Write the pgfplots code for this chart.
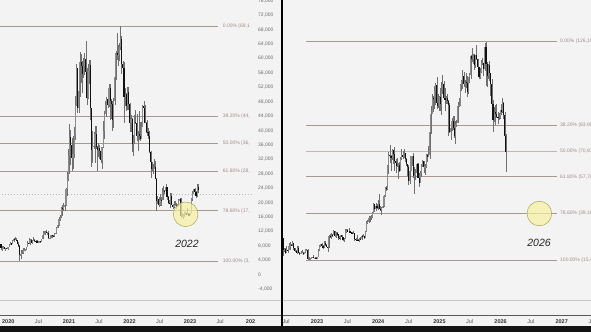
\documentclass[border=0pt]{standalone}
\usepackage{pgfplots}
\pgfplotsset{compat=1.18}
\usepackage{pgfplotstable}
\usepackage{fontspec}
\setmainfont{Liberation Sans}
\definecolor{bgc}{HTML}{F3F3F3}
\definecolor{fibc}{HTML}{A8988F}
\definecolor{fibt}{HTML}{A68A8A}
\definecolor{tickc}{HTML}{6E6E6E}
\definecolor{upc}{HTML}{8C8C8C}
\definecolor{dnc}{HTML}{111111}
\definecolor{wickc}{HTML}{707070}
\definecolor{circf}{HTML}{F6F1A0}
\definecolor{circd}{HTML}{A9A55C}
\definecolor{yearc}{HTML}{333333}
\definecolor{julc}{HTML}{555555}

% weekly BTC candles, n = weeks since 2019-11-18
\pgfplotstableread{
n o h l c
0 8500 8600 6900 7300
1 7300 7850 6550 7400
2 7400 7900 7150 7550
3 7550 7700 7050 7150
4 7150 7500 6450 7300
5 7300 7700 7050 7250
6 7250 7550 6850 7750
7 7750 8500 7700 8200
8 8200 9200 8150 8700
9 8700 8800 8250 8600
10 8600 9600 8550 9300
11 9300 10150 9150 9900
12 9900 10500 9700 9700
13 9700 10150 9300 9650
14 9650 9700 8500 8550
15 8550 9180 7700 8000
16 8000 8150 3800 5350
17 5350 6900 4450 5850
18 5850 6950 5700 5900
19 5900 7450 5850 6850
20 6850 7450 6450 6900
21 6900 7200 6500 7100
22 7100 7750 6800 7700
23 7700 9450 7650 8900
24 8900 10050 8600 8750
25 8750 9900 8200 9700
26 9700 9850 8850 8700
27 8700 9600 8650 9450
28 9450 10400 9250 9650
29 9650 9950 9200 9350
30 9350 9600 8950 9300
31 9300 9750 8850 9000
32 9000 9300 8950 9100
33 9100 9450 9050 9250
34 9250 9300 9050 9200
35 9200 10000 9150 9950
36 9950 12000 9900 11100
37 11100 12050 11050 11700
38 11700 12100 11150 11900
39 11900 12450 11500 11650
40 11650 11800 11150 11700
41 11700 12100 9900 10250
42 10250 10600 9900 10300
43 10300 11150 10200 11050
44 11050 11100 10150 10750
45 10750 10950 10400 10650
46 10650 11500 10550 11400
47 11400 11700 11250 11500
48 11500 13250 11400 13050
49 13050 13900 12950 13800
50 13800 15950 13550 15500
51 15500 16500 14800 16050
52 16050 18800 15800 18650
53 18650 19400 16300 18200
54 18200 19900 17700 19150
55 19150 19400 17600 19250
56 19250 24200 19000 23850
57 23850 28400 21900 26500
58 26500 34800 26100 33000
59 33000 41950 28000 38200
60 38200 40100 30400 36000
61 36000 37850 28900 32300
62 32300 38500 29300 33500
63 33500 40950 32300 38900
64 38900 49700 37400 47100
65 47100 58350 46800 57500
66 57500 57500 44900 46200
67 46200 52600 44900 51000
68 51000 61800 49300 59000
69 59000 61200 53300 58000
70 58000 59400 50400 55800
71 55800 60100 54600 58000
72 58000 61400 55500 60000
73 60000 64900 51000 56200
74 56200 57500 47000 49100
75 49100 58400 48800 56600
76 56600 59600 53000 58200
77 58200 59500 42900 46400
78 46400 46400 30000 34700
79 34700 40000 31100 35700
80 35700 39500 34800 35800
81 35800 41300 31000 39000
82 39000 41300 34800 35500
83 35500 35800 28800 34700
84 34700 36600 32700 35300
85 35300 35900 32100 34250
86 34250 34700 31000 31800
87 31800 35400 29300 35400
88 35400 42600 35200 39900
89 39900 45300 37600 44600
90 44600 48100 44500 47100
91 47100 49300 43900 48900
92 48900 50500 46400 47100
93 47100 52900 46600 51700
94 51700 52900 42800 48200
95 48200 48800 43200 47300
96 47300 48300 39800 42800
97 42800 49000 40800 48200
98 48200 56500 47000 54900
99 54900 62000 53900 61500
100 61500 67000 59700 60900
101 60900 63700 57800 61300
102 61300 64300 59400 63300
103 63300 69000 62300 65500
104 65500 66300 55600 58600
105 58600 59300 53300 57300
106 57300 59100 42000 49400
107 49400 51900 46700 50100
108 50100 50500 45500 46700
109 46700 52100 45600 50800
110 50800 52100 45700 47300
111 47300 47600 39700 42200
112 42200 44400 39700 43100
113 43100 43500 34100 36300
114 36300 38800 32900 37900
115 37900 44400 36300 42400
116 42400 45800 41700 42200
117 42200 44700 37000 38400
118 38400 39800 34300 39100
119 39100 45400 37500 38400
120 38400 42300 37200 37800
121 37800 42400 37600 41300
122 41300 47200 40900 46800
123 46800 48200 44200 46400
124 46400 47100 42100 42200
125 42200 42400 39200 39700
126 39700 42900 38600 39500
127 39500 40800 37600 38500
128 38500 40000 33700 34100
129 34100 34300 26700 31300
130 31300 31400 28700 29400
131 29400 30700 28000 29450
132 29450 32000 29300 29900
133 29900 31600 26600 26600
134 26600 26900 17600 20500
135 20500 21800 19700 21000
136 21000 21500 18800 19300
137 19300 22500 19200 20850
138 20850 21600 18950 20800
139 20800 24200 20800 22600
140 22600 24600 20700 23300
141 23300 23600 22500 23200
142 23200 25200 22700 24300
143 24300 24400 20800 21500
144 21500 21800 19600 20000
145 20000 20600 19500 19800
146 19800 22800 18600 21800
147 21800 22700 19300 19400
148 19400 19700 18200 18800
149 18800 20400 18500 19300
150 19300 20500 19000 19400
151 19400 19900 18200 19100
152 19100 19700 18900 19600
153 19600 21000 19200 20600
154 20600 21400 20100 20900
155 20900 21400 15600 16300
156 16300 17200 15900 16300
157 16300 16800 15500 16450
158 16450 17400 16100 17100
159 17100 17400 16700 17100
160 17100 18400 16500 16750
161 16750 17000 16300 16850
162 16850 17000 16350 16550
163 16550 17200 16500 17100
164 17100 21300 17100 20900
165 20900 23300 20400 22700
166 22700 23900 22300 23700
167 23700 24200 22600 22900
168 22900 23200 21400 21800
169 21800 25200 21500 24300
170 24300 25200 22800 23500
171 23500 23900 22000 22400
172 22400 22600 19600 22100
173 22100 28400 21900 28000
174 28000 28900 26600 27500
175 27500 29200 26500 28500
176 28500 28800 27200 28300
177 28300 30900 28200 30300
178 30300 30500 27200 27600
179 27600 30000 27000 29200
180 29200 29800 27700 28700
181 28700 28700 25800 26900
182 26900 27600 26300 26700
183 26700 28400 25900 28100
184 28100 28400 26500 27100
185 27100 27400 25400 25900
186 25900 26800 24800 26300
187 26300 31400 26200 30500
188 30500 31300 29500 30600
189 30600 31500 29800 30300
190 30300 31800 29900 30300
191 30300 30400 29500 29800
192 29800 29900 28900 29300
193 29300 29700 28600 29000
194 29000 30200 28700 29300
195 29300 29500 25200 26100
196 26100 26800 25800 26000
197 26000 28100 25400 25900
198 25900 26100 25300 25800
199 25800 26900 24900 26500
200 26500 27500 26000 26300
201 26300 28100 26000 28000
202 28000 28600 27200 27900
203 27900 27900 26500 26900
204 26900 30300 26800 30000
205 30000 35200 29800 34500
206 34500 35900 34000 35000
207 35000 38000 34500 37100
208 37100 37900 34800 37400
209 37400 38400 35700 37500
210 37500 40200 36900 39500
211 39500 44700 39300 43800
212 43800 44000 40200 41400
213 41400 44300 40500 43000
214 43000 43800 41400 42300
215 42300 45900 40800 43900
216 43900 49000 41500 41700
217 41700 43200 40600 41600
218 41600 42300 38500 42000
219 42000 43900 41800 43000
220 43000 48600 42500 48300
221 48300 52800 47700 52100
222 52100 52900 50600 51700
223 51700 64000 50900 63100
224 63100 70100 59000 68900
225 68900 73800 64600 68400
226 68400 68900 60800 67200
227 67200 71700 66400 71300
228 71300 71300 64500 69400
229 69400 72800 60700 65700
230 65700 66900 59700 64900
231 64900 67200 62500 63100
232 63100 64700 56600 64000
233 64000 65500 60200 60800
234 60800 67700 60700 66900
235 66900 71900 66100 69000
236 69000 70600 66700 67800
237 67800 71900 67500 69600
238 69600 70000 65100 66600
239 66600 67200 63400 64300
240 64300 64400 58400 62700
241 62700 63800 53500 55800
242 55800 61300 54300 60800
243 60800 68400 60700 68200
244 68200 68500 63500 68300
245 68300 70000 57200 58100
246 58100 62700 49000 58700
247 58700 61800 56100 59500
248 59500 65000 58000 64200
249 64200 64900 57200 57300
250 57300 59800 52600 54800
251 54800 60600 54600 59900
252 59900 64100 57500 63300
253 63300 66500 62700 65600
254 65600 66000 59900 62800
255 62800 64400 58900 63200
256 63200 69400 62400 69000
257 69000 69500 65500 67900
258 67900 73600 67600 68800
259 68800 81500 66800 80400
260 80400 93400 79700 89800
261 89800 99600 89400 97900
262 97900 98900 90800 97300
263 97300 104000 91900 101000
264 101000 105200 94200 104500
265 104500 108300 92200 95200
266 95200 99900 92500 93700
267 93700 98900 91200 98300
268 98300 102700 91200 94500
269 94500 106000 89300 101300
270 101300 109400 99500 104700
271 104700 106500 96800 97700
272 97700 102500 91200 96500
273 96500 98500 94800 97500
274 97500 99500 94900 96300
275 96300 96500 78200 94200
276 94200 95000 80000 80700
277 80700 85300 76600 82600
278 82600 87400 81200 86100
279 86100 88800 81600 82300
280 82300 88500 77200 78400
281 78400 86000 74500 83800
282 83800 86400 83100 85100
283 85100 95700 85100 93800
284 93800 97900 92900 94300
285 94300 104900 93400 104100
286 104100 106600 101400 106500
287 106500 111900 102100 109000
288 109000 110700 103100 104600
289 104600 106800 100400 105700
290 105700 110600 102700 105500
291 105500 108900 98200 100900
292 100900 108500 99600 108400
293 108400 110600 105100 109200
294 109200 119500 107500 119100
295 119100 123200 115800 117300
296 117300 120200 114700 119400
297 119400 119800 112000 114200
298 114200 119300 112700 119300
299 119300 124500 116800 117400
300 117400 117400 111700 113500
301 113500 113600 107300 108300
302 108300 113000 107300 111100
303 111100 116800 110600 115300
304 115300 117900 114400 115300
305 115300 115400 108600 112200
306 112200 125500 111600 123500
307 123500 126200 104000 115000
308 115000 115900 103500 108700
309 108700 114800 107500 114500
310 114500 116400 106300 110600
311 110600 110600 98900 104700
312 104700 107500 94000 94400
313 94400 96600 80600 86800
314 86800 93100 85300 90400
315 90400 94100 83800 89500
316 89500 94600 87600 88200
317 88200 90400 84400 88100
318 88100 90300 86600 87800
319 87800 91800 86900 91500
320 91500 94800 89300 90500
321 90500 97900 90300 95000
322 95000 95500 87300 89000
323 89000 90500 75800 78600
324 78600 79300 60000 70500
}\btc

\pgfplotsset{
  panel/.style={
    scale only axis, anchor=south west,
    axis line style={draw=none}, major tick length=0pt,
    scaled y ticks=false, scaled x ticks=false,
    /pgf/number format/1000 sep={,},
    /pgf/number format/assume math mode=true,
    xticklabel style={font=\fontsize{5.5}{6}\selectfont, text=julc, anchor=north, inner sep=0pt, yshift=-4pt},
    yticklabel style={font=\fontsize{5}{6}\selectfont, text=tickc, anchor=west, inner sep=0pt, xshift=5pt},
    clip=true,
  },
  fib/.style={fibc, line width=0.6pt, forget plot},
}
\tikzset{
  fiblab/.style={anchor=west, text=fibt, font=\fontsize{5}{6}\selectfont, inner sep=0pt},
  yr/.style={font=\fontsize{10.5}{12}\selectfont\itshape, text=black!85},
  circ/.style={draw=circd, fill=circf, fill opacity=0.7, line width=0.5pt},
}

\newcommand{\candles}[1]{%
  \addplot[draw=none, mark=none, forget plot, #1,
    error bars/.cd, y dir=both, y explicit, error mark=none,
    error bar style={draw=wickc, line width=0.45pt}]
    table[x=n, y expr={(\thisrow{h}+\thisrow{l})/2}, y error expr={(\thisrow{h}-\thisrow{l})/2}] {\btc};
  \addplot[draw=none, mark=none, forget plot, #1,
    restrict expr to domain={\thisrow{c}-\thisrow{o}}{0:1000000},
    error bars/.cd, y dir=both, y explicit, error mark=none,
    error bar style={draw=upc, line width=1.1pt}]
    table[x=n, y expr={(\thisrow{o}+\thisrow{c})/2}, y error expr={abs(\thisrow{c}-\thisrow{o})/2}] {\btc};
  \addplot[draw=none, mark=none, forget plot, #1,
    restrict expr to domain={\thisrow{c}-\thisrow{o}}{-1000000:-1},
    error bars/.cd, y dir=both, y explicit, error mark=none,
    error bar style={draw=dnc, line width=1.1pt}]
    table[x=n, y expr={(\thisrow{o}+\thisrow{c})/2}, y error expr={abs(\thisrow{c}-\thisrow{o})/2}] {\btc};
}

\begin{document}
\begin{tikzpicture}[x=1pt,y=1pt]
\fill[bgc] (0,0) rectangle (591,332);
\path[use as bounding box] (0,0) rectangle (591,332);

% ---------- left panel ----------
\begin{axis}[panel, at={(0pt,17pt)}, width=253pt, height=315pt,
  xmin=-0.87, xmax=217.1, ymin=-11185, ymax=76242,
  ytick={-4000,0,...,76000}, yticklabel pos=right,
  xtick={6.286,32.286,58.571,84.43,110.71,136.57,162.86,188.71,215.0},
  xticklabels={\textcolor{yearc}{\textbf{2020}},Jul,\textcolor{yearc}{\textbf{2021}},Jul,\textcolor{yearc}{\textbf{2022}},Jul,\textcolor{yearc}{\textbf{2023}},Jul,\textcolor{yearc}{\textbf{202}}},
]
\addplot[gray!55, line width=0.4pt, dash pattern=on 1.5pt off 1.5pt, forget plot] coordinates {(-2,22400) (217.1,22400)};
\addplot[fib] coordinates {(-2,69000) (186.9,69000)};
\addplot[fib] coordinates {(-2,44094) (186.9,44094)};
\addplot[fib] coordinates {(-2,36400) (186.9,36400)};
\addplot[fib] coordinates {(-2,28706) (186.9,28706)};
\addplot[fib] coordinates {(-2,17753) (186.9,17753)};
\addplot[fib] coordinates {(-2,3800) (186.9,3800)};
\candles{restrict x to domain=-5:170.5}
\draw[circ] (axis cs:159.1,16764) circle[radius=12.3pt];
\node[yr] at (axis cs:160.2,8520) {2022};
\node[fiblab] at (axis cs:191,69000) {0.00\% (69,1};
\node[fiblab] at (axis cs:191,44094) {38.20\% (44,};
\node[fiblab] at (axis cs:191,36400) {50.00\% (36,};
\node[fiblab] at (axis cs:191,28706) {61.80\% (28,};
\node[fiblab] at (axis cs:191,17753) {78.60\% (17,};
\node[fiblab] at (axis cs:191,3800) {100.00\% (3,};
\end{axis}

% ---------- right panel ----------
\begin{axis}[panel, at={(283pt,17pt)}, width=309.7pt, height=315pt,
  xmin=133.86, xmax=398, ymin=-12200, ymax=147317,
  ytick=\empty,
  xtick={136.57,162.86,188.71,215.0,241.0,267.29,293.14,319.43,345.29,371.57,397.43},
  xticklabels={Jul,\textcolor{yearc}{\textbf{2023}},Jul,\textcolor{yearc}{\textbf{2024}},Jul,\textcolor{yearc}{\textbf{2025}},Jul,\textcolor{yearc}{\textbf{2026}},Jul,\textcolor{yearc}{\textbf{2027}},Jul},
]
\addplot[fib] coordinates {(153.5,126200) (367.6,126200)};
\addplot[fib] coordinates {(153.5,83913) (367.6,83913)};
\addplot[fibc!70, line width=0.9pt, forget plot] coordinates {(153.5,70850) (367.6,70850)};
\addplot[fib] coordinates {(153.5,57787) (367.6,57787)};
\addplot[fib] coordinates {(153.5,39190) (367.6,39190)};
\addplot[fib] coordinates {(153.5,15500) (367.6,15500)};
\candles{}
\draw[circ] (axis cs:352.5,39190) circle[radius=12.3pt];
\node[yr] at (axis cs:352.2,24410) {2026};
\node[fiblab] at (axis cs:370.1,126200) {0.00\% (126,198.07)};
\node[fiblab] at (axis cs:370.1,83913) {38.20\% (83,906.44)};
\node[fiblab] at (axis cs:370.1,70850) {50.00\% (70,837.06)};
\node[fiblab] at (axis cs:370.1,57787) {61.80\% (57,767.68)};
\node[fiblab] at (axis cs:370.1,39190) {78.60\% (39,160.68)};
\node[fiblab] at (axis cs:370.1,15500) {100.00\% (15,476.04)};
\end{axis}

% ---------- frame decorations ----------
\draw[color=black!22, line width=0.8pt] (0,32) -- (591,32);
\draw[color=black!65, line width=0.8pt] (0,17) -- (591,17);
\fill[black!92] (0,0) rectangle (591,6);
\draw[black, line width=2pt] (281.5,6) -- (281.5,332);
\end{tikzpicture}
\end{document}
